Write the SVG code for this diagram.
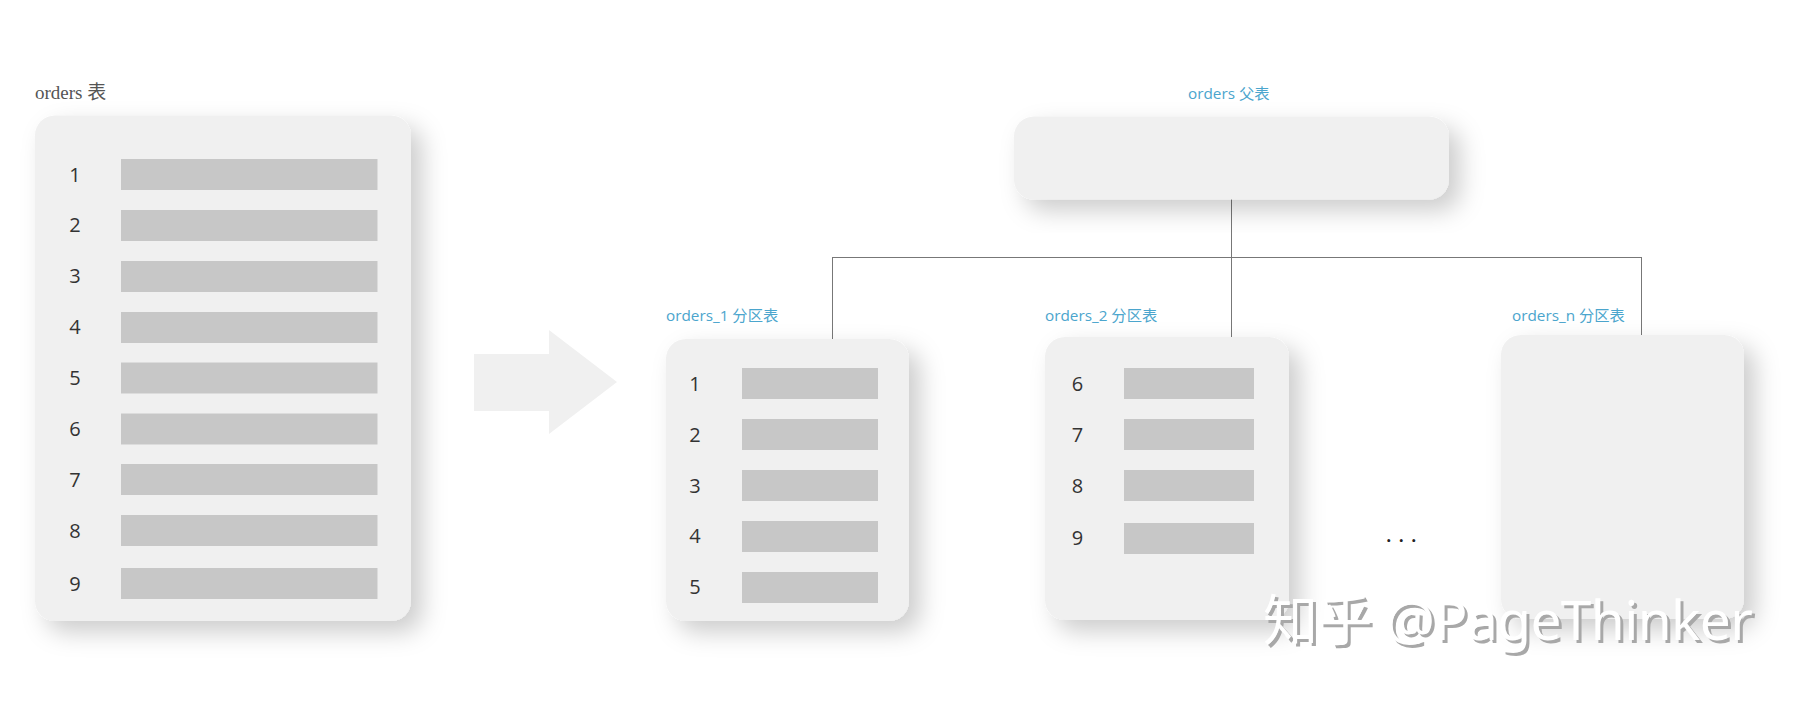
<svg xmlns="http://www.w3.org/2000/svg" width="1797" height="703" viewBox="0 0 1797 703">
<style>
.card{fill:#f0f0f0;filter:url(#sh)}
.bar{fill:#c7c7c7}
.num{font-family:"Open Sans","Noto Sans",sans-serif;font-size:20px;fill:#333;text-anchor:middle}
.blue{font-family:"Open Sans","Noto Sans CJK SC",sans-serif;font-size:15.300px;fill:#4ba5cd}
.wm{font-family:"Noto Sans","Noto Sans CJK SC",sans-serif;font-size:55px;font-weight:400}
line{stroke:#777;stroke-width:1;fill:none}
</style>
<defs>
<filter id="sh" x="-20%" y="-30%" width="150%" height="170%"><feDropShadow dx="11" dy="11" stdDeviation="12" flood-color="#000" flood-opacity="0.2"/></filter>
</defs>
<rect width="1797" height="703" fill="#fff"/>
<g id="connectors">
<line x1="1231.5" y1="199" x2="1231.5" y2="338"/>
<line x1="832" y1="257.500" x2="1642" y2="257.500"/>
<line x1="832.500" y1="257" x2="832.500" y2="340"/>
<line x1="1641.500" y1="257" x2="1641.500" y2="336"/>
</g>
<g id="orders-table">
<text x="35" y="98.500" font-family="'Liberation Serif','Noto Sans CJK SC',serif" font-size="19" fill="#555">orders 表</text>
<rect class="card" x="35" y="115.500" width="376" height="505.500" rx="20"/>
<rect class="bar" x="121" y="159" width="256.500" height="31"/><text class="num" x="75" y="181.500">1</text>
<rect class="bar" x="121" y="210" width="256.500" height="31"/><text class="num" x="75" y="232">2</text>
<rect class="bar" x="121" y="261" width="256.500" height="31"/><text class="num" x="75" y="283">3</text>
<rect class="bar" x="121" y="312" width="256.500" height="31"/><text class="num" x="75" y="334">4</text>
<rect class="bar" x="121" y="362.500" width="256.500" height="31"/><text class="num" x="75" y="385">5</text>
<rect class="bar" x="121" y="413.500" width="256.500" height="31"/><text class="num" x="75" y="436">6</text>
<rect class="bar" x="121" y="464" width="256.500" height="31"/><text class="num" x="75" y="487">7</text>
<rect class="bar" x="121" y="515" width="256.500" height="31"/><text class="num" x="75" y="538">8</text>
<rect class="bar" x="121" y="568" width="256.500" height="31"/><text class="num" x="75" y="591">9</text>
</g>
<polygon id="arrow" points="474,354 549,354 549,330 617,382 549,434 549,411 474,411" fill="#f0f0f0"/>
<g id="parent-table">
<text class="blue" x="1188" y="99">orders 父表</text>
<rect class="card" x="1014" y="116.500" width="435" height="83" rx="20"/>
</g>
<g id="partition-1">
<text class="blue" x="666" y="321">orders_1 分区表</text>
<rect class="card" x="666" y="339" width="243" height="282" rx="20"/>
<rect class="bar" x="742" y="368" width="136" height="31"/><text class="num" x="695" y="391">1</text>
<rect class="bar" x="742" y="419" width="136" height="31"/><text class="num" x="695" y="442">2</text>
<rect class="bar" x="742" y="470" width="136" height="31"/><text class="num" x="695" y="493">3</text>
<rect class="bar" x="742" y="521" width="136" height="31"/><text class="num" x="695" y="543">4</text>
<rect class="bar" x="742" y="572" width="136" height="31"/><text class="num" x="695" y="594">5</text>
</g>
<g id="partition-2">
<text class="blue" x="1045" y="321">orders_2 分区表</text>
<rect class="card" x="1045" y="337" width="244" height="283" rx="20"/>
<rect class="bar" x="1124" y="368" width="130" height="31"/><text class="num" x="1077.500" y="391">6</text>
<rect class="bar" x="1124" y="419" width="130" height="31"/><text class="num" x="1077.500" y="442">7</text>
<rect class="bar" x="1124" y="470" width="130" height="31"/><text class="num" x="1077.500" y="493">8</text>
<rect class="bar" x="1124" y="523" width="130" height="31"/><text class="num" x="1077.500" y="545">9</text>
</g>
<g id="partition-n">
<text class="blue" x="1512" y="321">orders_n 分区表</text>
<rect class="card" x="1501" y="335" width="243" height="284" rx="20"/>
</g>
<text id="ellipsis" x="1386" y="542" font-family="'Open Sans',sans-serif" font-size="20" letter-spacing="7" font-weight="600" fill="#222">...</text>
<g id="watermark">
<text class="wm" x="1266" y="643" fill="#a8a8a8" textLength="490">知乎 @PageThinker</text>
<text class="wm" x="1263" y="640" fill="#fff" textLength="490">知乎 @PageThinker</text>
</g>
</svg>
